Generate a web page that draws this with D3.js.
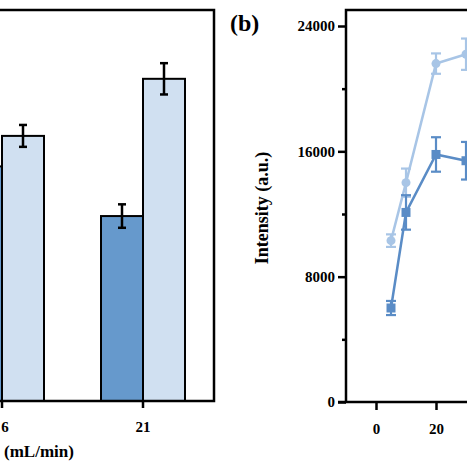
<!DOCTYPE html>
<html><head><meta charset="utf-8">
<script src="https://cdn.jsdelivr.net/npm/d3@7"></script>
<style>body{margin:0;background:#fff}svg{font-family:"Liberation Serif","DejaVu Serif",serif;font-weight:bold}
.tick text{font-size:15px;font-family:"Liberation Serif",serif;font-weight:bold}</style>
</head><body><svg id="c" width="467" height="467"></svg>
<script>
// Panel (a) bars (cropped)
const flows = ['6', '21'];
const darkBars = [60, 47.3];
const darkErr = [3, 3];
const lightBars = [67.8, 82.4];
const lightErr = [2.8, 4];
// Panel (b) lines
const xVals = [5, 10, 20, 30];
const lightLine = [10300, 14000, 21600, 22200];
const lightLineErr = [400, 900, 650, 1000];
const darkLine = [6000, 12100, 15800, 15400];
const darkLineErr = [450, 1100, 1100, 1200];
const yTicks = [0, 8000, 16000, 24000];

const svg = d3.select('#c');
const cDark = '#6699cc', cLight = '#d0e0f1';

// ---- panel (a)
const ya = d3.scaleLinear().domain([0, 100]).range([401, 10]);
const xa = d3.scalePoint().domain(flows).range([2, 143]);
const bw = 42;
flows.forEach((f, i) => {
    const cx = xa(f);
    [[darkBars[i], darkErr[i], cx - bw, cDark], [lightBars[i], lightErr[i], cx, cLight]].forEach(([v, e, x0, col]) => {
        svg.append('rect').attr('x', x0).attr('y', ya(v)).attr('width', bw).attr('height', ya(0) - ya(v))
            .attr('fill', col).attr('stroke', '#000').attr('stroke-width', 2);
        const mx = x0 + bw / 2;
        svg.append('line').attr('x1', mx).attr('x2', mx).attr('y1', ya(v + e)).attr('y2', ya(v - e)).attr('stroke', '#000').attr('stroke-width', 2.5);
        [v + e, v - e].forEach(t => svg.append('line').attr('x1', mx - 4).attr('x2', mx + 4).attr('y1', ya(t)).attr('y2', ya(t)).attr('stroke', '#000').attr('stroke-width', 2.5));
    });
    svg.append('line').attr('x1', cx).attr('x2', cx).attr('y1', 401).attr('y2', 408).attr('stroke', '#000').attr('stroke-width', 2.5);
    svg.append('text').attr('x', cx + (i ? 0 : 3)).attr('y', 432).attr('text-anchor', 'middle').attr('font-size', 15).text(f);
});
svg.append('rect').attr('x', -10).attr('y', 10).attr('width', 224).attr('height', 391).attr('fill', 'none').attr('stroke', '#000').attr('stroke-width', 2.5);
svg.append('text').attr('x', 4).attr('y', 457).attr('font-size', 17).text('(mL/min)');

// ---- panel (b)
const xb = d3.scaleLinear().domain([-10, 30]).range([346, 466]);
const yb = d3.scaleLinear().domain([0, 24000]).range([402, 26]);
svg.append('rect').attr('x', 346).attr('y', 10).attr('width', 140).attr('height', 392).attr('fill', 'none').attr('stroke', '#000').attr('stroke-width', 2.5);
svg.append('g').attr('transform', 'translate(346,0)')
    .call(d3.axisLeft(yb).tickValues(yTicks).tickSize(8).tickFormat(d3.format('d')));
svg.append('g').attr('transform', 'translate(346,0)')
    .call(d3.axisLeft(yb).tickValues([4000, 12000, 20000]).tickSize(4).tickFormat(''));
const bx = svg.append('g').attr('transform', 'translate(0,402)')
    .call(d3.axisBottom(xb).tickValues([0, 20]).tickSize(8).tickFormat(d3.format('d')));
svg.selectAll('.domain').remove();
svg.selectAll('.tick line').attr('stroke', '#000').attr('stroke-width', 2.5);
svg.selectAll('.tick text').attr('fill', '#000');
bx.selectAll('.tick text').attr('dy', '1.4em');
svg.append('line').attr('x1', 346).attr('x2', 338).attr('y1', 402).attr('y2', 402).attr('stroke', '#000').attr('stroke-width', 2.5);

[[lightLine, lightLineErr, '#a8c5e6', 'circle'], [darkLine, darkLineErr, '#5a8cc6', 'square']].forEach(([vals, errs, col, shape]) => {
    const line = d3.line().x((d, i) => xb(xVals[i])).y(d => yb(d));
    svg.append('path').datum(vals).attr('d', line).attr('fill', 'none').attr('stroke', col).attr('stroke-width', 2.5);
    vals.forEach((v, i) => {
        const x = xb(xVals[i]);
        svg.append('line').attr('x1', x).attr('x2', x).attr('y1', yb(v + errs[i])).attr('y2', yb(v - errs[i])).attr('stroke', col).attr('stroke-width', 2.2);
        [v + errs[i], v - errs[i]].forEach(t => svg.append('line').attr('x1', x - 5).attr('x2', x + 5).attr('y1', yb(t)).attr('y2', yb(t)).attr('stroke', col).attr('stroke-width', 2.2));
        if (shape === 'circle') svg.append('circle').attr('cx', x).attr('cy', yb(v)).attr('r', 4.5).attr('fill', col);
        else svg.append('rect').attr('x', x - 4.5).attr('y', yb(v) - 4.5).attr('width', 9).attr('height', 9).attr('fill', col);
    });
});
svg.append('text').attr('transform', 'translate(268,208) rotate(-90)').attr('text-anchor', 'middle').attr('font-size', 18).text('Intensity (a.u.)');
svg.append('text').attr('x', 230).attr('y', 31).attr('font-size', 24).text('(b)');
</script></body></html>
